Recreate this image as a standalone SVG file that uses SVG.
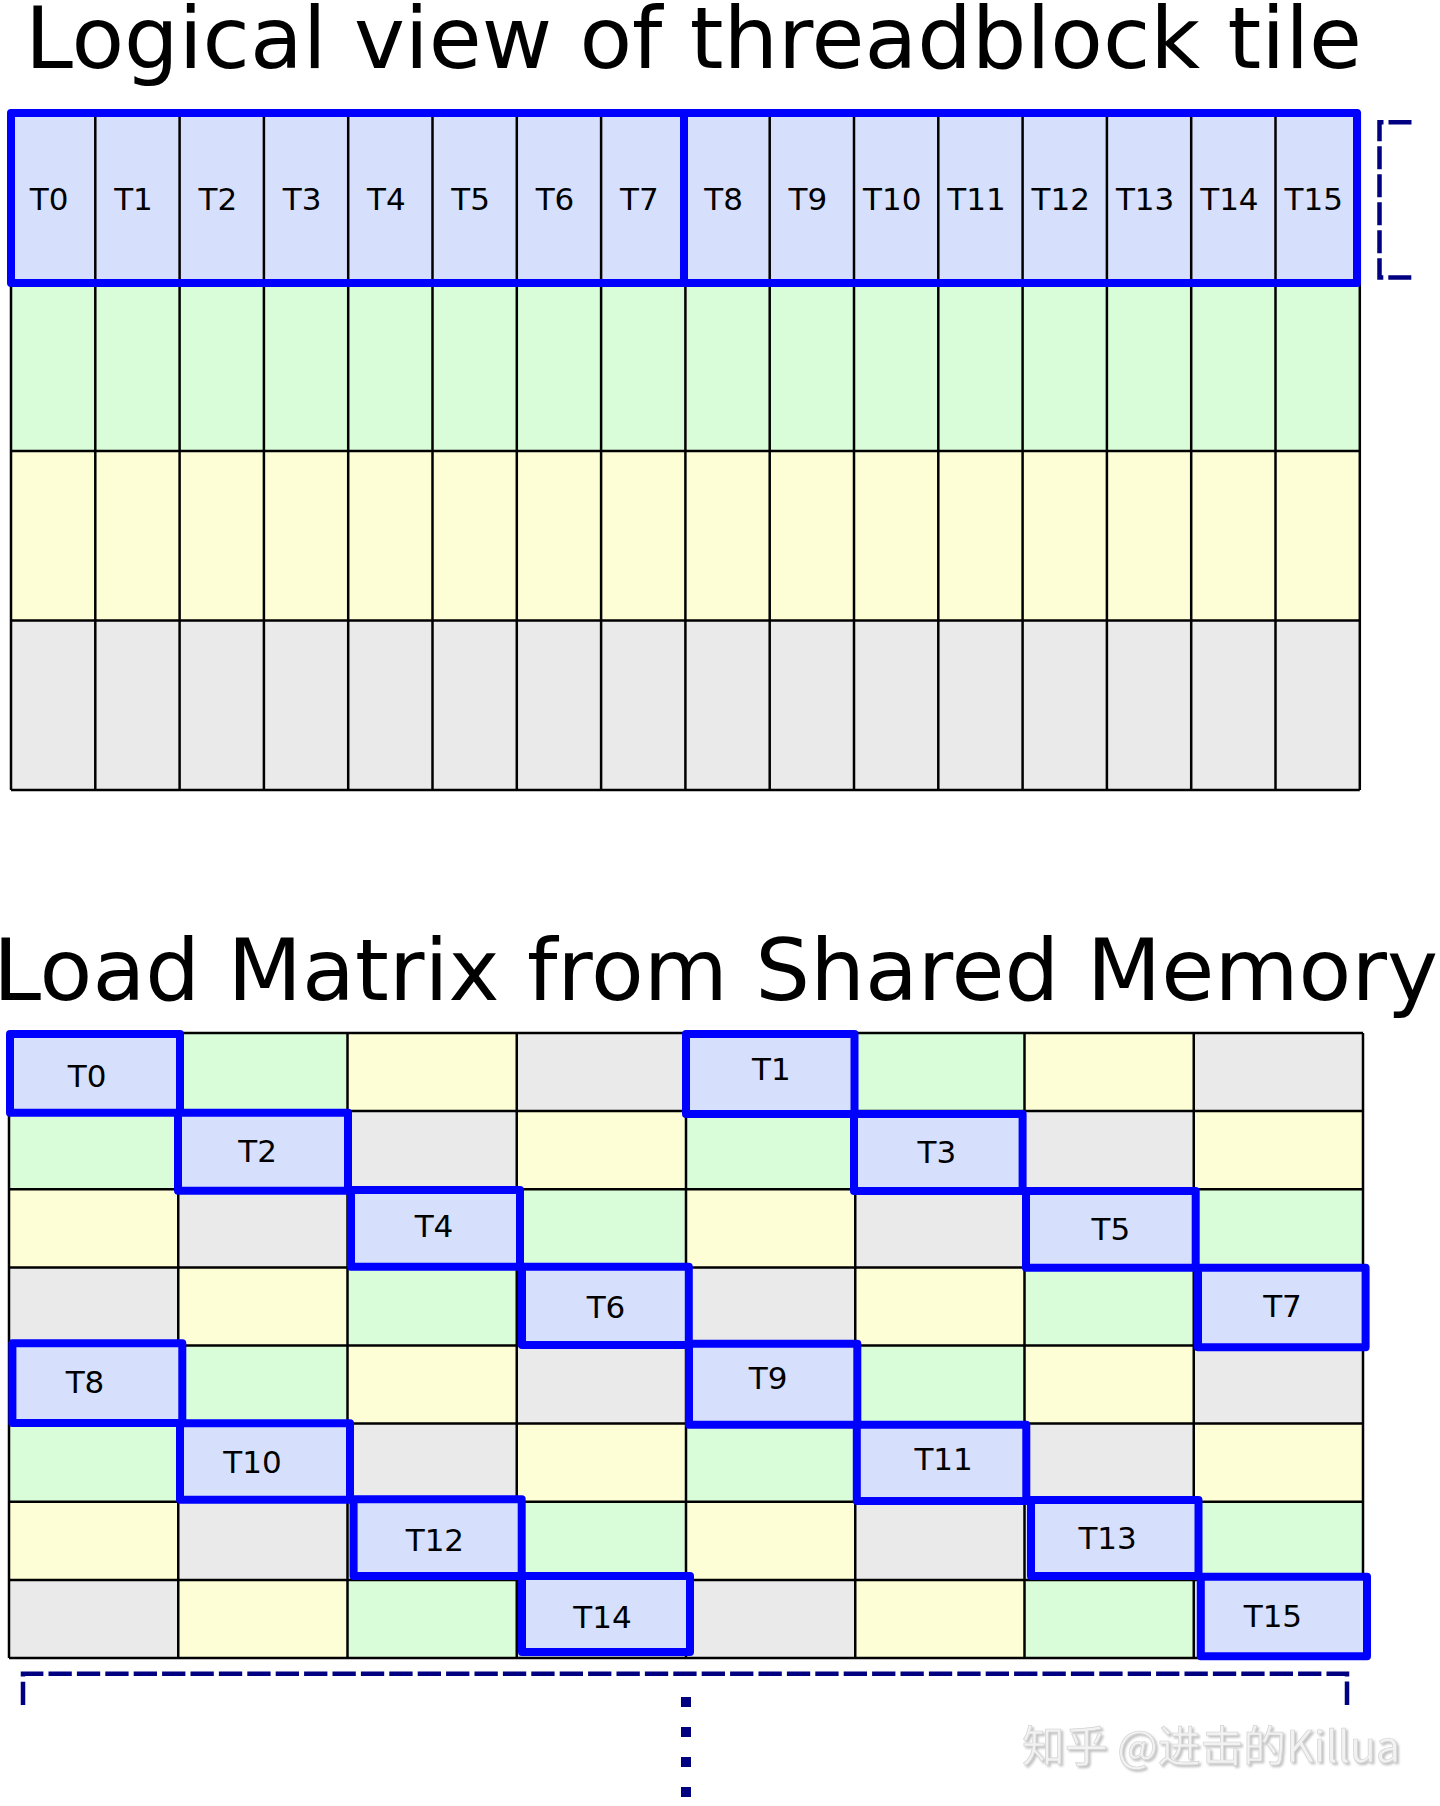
<svg xmlns="http://www.w3.org/2000/svg" width="1440" height="1806" viewBox="0 0 1440 1806">
<style>
.title{font-family:"DejaVu Sans",Verdana,sans-serif;font-size:85px;fill:#000}
.lbl{font-family:"DejaVu Sans",Verdana,sans-serif;font-size:31px;fill:#000;text-anchor:middle}
.b{fill:#d6e0fc}
.g{fill:#d8fdd8}
.y{fill:#fdfdd6}
.k{fill:#eaeaea}
.grid{fill:none;stroke:#000;stroke-width:2.5}
.box{fill:#d6e0fc;stroke:#0000ff;stroke-width:8;stroke-linejoin:round}
.dash{fill:none;stroke:#000080;stroke-width:4.5}
.wm{font-family:"Noto Sans CJK SC","Noto Sans",sans-serif;font-size:43px;fill:#f2f2f2;stroke:#d4d4d4;stroke-width:0.7}
</style>
<defs>
<filter id="sh" x="-5%" y="-20%" width="110%" height="140%">
<feDropShadow dx="2" dy="2" stdDeviation="0.8" flood-color="#a8a8a8" flood-opacity="0.7"/>
</filter>
</defs>
<rect x="0" y="0" width="1440" height="1806" fill="#fff"/>

<text class="title" x="25" y="68" textLength="1337" lengthAdjust="spacingAndGlyphs">Logical view of threadblock tile</text>

<g id="top-tile">
<rect class="b" x="11" y="112" width="1349" height="170.5"/>
<rect class="g" x="11" y="282.5" width="1349" height="168.5"/>
<rect class="y" x="11" y="451" width="1349" height="169.5"/>
<rect class="k" x="11" y="620.5" width="1349" height="169.5"/>
<path class="grid" d="M11,112V790M95.3,112V790M179.6,112V790M263.9,112V790M348.2,112V790M432.5,112V790M516.8,112V790M601.1,112V790M685.4,112V790M769.7,112V790M854,112V790M938.3,112V790M1022.6,112V790M1106.9,112V790M1191.2,112V790M1275.5,112V790M1359.8,112V790M11,112H1359.8M11,282.5H1359.8M11,451H1359.8M11,620.5H1359.8M11,790H1359.8"/>
<rect x="11" y="113" width="673" height="170" fill="none" stroke="#0000ff" stroke-width="8" stroke-linejoin="round"/>
<rect x="684" y="113" width="673" height="170" fill="none" stroke="#0000ff" stroke-width="8" stroke-linejoin="round"/>
</g>
<g id="top-threads">
<g id="top-T0"><text class="lbl" x="49.2" y="210">T0</text></g>
<g id="top-T1"><text class="lbl" x="133.5" y="210">T1</text></g>
<g id="top-T2"><text class="lbl" x="217.8" y="210">T2</text></g>
<g id="top-T3"><text class="lbl" x="302.1" y="210">T3</text></g>
<g id="top-T4"><text class="lbl" x="386.4" y="210">T4</text></g>
<g id="top-T5"><text class="lbl" x="470.7" y="210">T5</text></g>
<g id="top-T6"><text class="lbl" x="555" y="210">T6</text></g>
<g id="top-T7"><text class="lbl" x="639.3" y="210">T7</text></g>
<g id="top-T8"><text class="lbl" x="723.6" y="210">T8</text></g>
<g id="top-T9"><text class="lbl" x="807.9" y="210">T9</text></g>
<g id="top-T10"><text class="lbl" x="892.2" y="210">T10</text></g>
<g id="top-T11"><text class="lbl" x="976.5" y="210">T11</text></g>
<g id="top-T12"><text class="lbl" x="1060.8" y="210">T12</text></g>
<g id="top-T13"><text class="lbl" x="1145.1" y="210">T13</text></g>
<g id="top-T14"><text class="lbl" x="1229.4" y="210">T14</text></g>
<g id="top-T15"><text class="lbl" x="1313.7" y="210">T15</text></g>
</g>

<text class="title" x="-7" y="1000" textLength="1445" lengthAdjust="spacingAndGlyphs">Load Matrix from Shared Memory</text>

<g id="shared-memory">
<g id="cells">
<rect class="b" x="9" y="1033" width="169.25" height="78.1"/><rect class="g" x="178.25" y="1033" width="169.25" height="78.1"/><rect class="y" x="347.5" y="1033" width="169.25" height="78.1"/><rect class="k" x="516.75" y="1033" width="169.25" height="78.1"/>
<rect class="b" x="686" y="1033" width="169.25" height="78.1"/><rect class="g" x="855.25" y="1033" width="169.25" height="78.1"/><rect class="y" x="1024.5" y="1033" width="169.25" height="78.1"/><rect class="k" x="1193.75" y="1033" width="169.25" height="78.1"/>
<rect class="g" x="9" y="1111.1" width="169.25" height="78.15"/><rect class="b" x="178.25" y="1111.1" width="169.25" height="78.15"/><rect class="k" x="347.5" y="1111.1" width="169.25" height="78.15"/><rect class="y" x="516.75" y="1111.1" width="169.25" height="78.15"/>
<rect class="g" x="686" y="1111.1" width="169.25" height="78.15"/><rect class="b" x="855.25" y="1111.1" width="169.25" height="78.15"/><rect class="k" x="1024.5" y="1111.1" width="169.25" height="78.15"/><rect class="y" x="1193.75" y="1111.1" width="169.25" height="78.15"/>
<rect class="y" x="9" y="1189.25" width="169.25" height="78.15"/><rect class="k" x="178.25" y="1189.25" width="169.25" height="78.15"/><rect class="b" x="347.5" y="1189.25" width="169.25" height="78.15"/><rect class="g" x="516.75" y="1189.25" width="169.25" height="78.15"/>
<rect class="y" x="686" y="1189.25" width="169.25" height="78.15"/><rect class="k" x="855.25" y="1189.25" width="169.25" height="78.15"/><rect class="b" x="1024.5" y="1189.25" width="169.25" height="78.15"/><rect class="g" x="1193.75" y="1189.25" width="169.25" height="78.15"/>
<rect class="k" x="9" y="1267.4" width="169.25" height="78.1"/><rect class="y" x="178.25" y="1267.4" width="169.25" height="78.1"/><rect class="g" x="347.5" y="1267.4" width="169.25" height="78.1"/><rect class="b" x="516.75" y="1267.4" width="169.25" height="78.1"/>
<rect class="k" x="686" y="1267.4" width="169.25" height="78.1"/><rect class="y" x="855.25" y="1267.4" width="169.25" height="78.1"/><rect class="g" x="1024.5" y="1267.4" width="169.25" height="78.1"/><rect class="b" x="1193.75" y="1267.4" width="169.25" height="78.1"/>
<rect class="b" x="9" y="1345.5" width="169.25" height="78.1"/><rect class="g" x="178.25" y="1345.5" width="169.25" height="78.1"/><rect class="y" x="347.5" y="1345.5" width="169.25" height="78.1"/><rect class="k" x="516.75" y="1345.5" width="169.25" height="78.1"/>
<rect class="b" x="686" y="1345.5" width="169.25" height="78.1"/><rect class="g" x="855.25" y="1345.5" width="169.25" height="78.1"/><rect class="y" x="1024.5" y="1345.5" width="169.25" height="78.1"/><rect class="k" x="1193.75" y="1345.5" width="169.25" height="78.1"/>
<rect class="g" x="9" y="1423.6" width="169.25" height="78.15"/><rect class="b" x="178.25" y="1423.6" width="169.25" height="78.15"/><rect class="k" x="347.5" y="1423.6" width="169.25" height="78.15"/><rect class="y" x="516.75" y="1423.6" width="169.25" height="78.15"/>
<rect class="g" x="686" y="1423.6" width="169.25" height="78.15"/><rect class="b" x="855.25" y="1423.6" width="169.25" height="78.15"/><rect class="k" x="1024.5" y="1423.6" width="169.25" height="78.15"/><rect class="y" x="1193.75" y="1423.6" width="169.25" height="78.15"/>
<rect class="y" x="9" y="1501.75" width="169.25" height="78.15"/><rect class="k" x="178.25" y="1501.75" width="169.25" height="78.15"/><rect class="b" x="347.5" y="1501.75" width="169.25" height="78.15"/><rect class="g" x="516.75" y="1501.75" width="169.25" height="78.15"/>
<rect class="y" x="686" y="1501.75" width="169.25" height="78.15"/><rect class="k" x="855.25" y="1501.75" width="169.25" height="78.15"/><rect class="b" x="1024.5" y="1501.75" width="169.25" height="78.15"/><rect class="g" x="1193.75" y="1501.75" width="169.25" height="78.15"/>
<rect class="k" x="9" y="1579.9" width="169.25" height="78.1"/><rect class="y" x="178.25" y="1579.9" width="169.25" height="78.1"/><rect class="g" x="347.5" y="1579.9" width="169.25" height="78.1"/><rect class="b" x="516.75" y="1579.9" width="169.25" height="78.1"/>
<rect class="k" x="686" y="1579.9" width="169.25" height="78.1"/><rect class="y" x="855.25" y="1579.9" width="169.25" height="78.1"/><rect class="g" x="1024.5" y="1579.9" width="169.25" height="78.1"/><rect class="b" x="1193.75" y="1579.9" width="169.25" height="78.1"/>
</g>
<path class="grid" d="M9,1033V1658M178.25,1033V1658M347.5,1033V1658M516.75,1033V1658M686,1033V1658M855.25,1033V1658M1024.5,1033V1658M1193.75,1033V1658M1363,1033V1658M9,1033H1363M9,1111.1H1363M9,1189.25H1363M9,1267.4H1363M9,1345.5H1363M9,1423.6H1363M9,1501.75H1363M9,1579.9H1363M9,1658H1363"/>
</g>

<g id="threads">
<g id="T0"><rect class="box" x="10" y="1034" width="170" height="78.7"/><text class="lbl" x="87.2" y="1086.7">T0</text></g>
<g id="T1"><rect class="box" x="686" y="1034" width="168.5" height="80"/><text class="lbl" x="771.4" y="1080">T1</text></g>
<g id="T2"><rect class="box" x="178" y="1112.7" width="170" height="78"/><text class="lbl" x="257.6" y="1161.7">T2</text></g>
<g id="T3"><rect class="box" x="854" y="1114" width="168.6" height="77"/><text class="lbl" x="936.8" y="1162.7">T3</text></g>
<g id="T4"><rect class="box" x="351" y="1190" width="169" height="76.7"/><text class="lbl" x="434" y="1236.7">T4</text></g>
<g id="T5"><rect class="box" x="1026" y="1191" width="169.7" height="76.7"/><text class="lbl" x="1110.8" y="1240">T5</text></g>
<g id="T6"><rect class="box" x="522" y="1266.7" width="166.8" height="78.3"/><text class="lbl" x="606" y="1318">T6</text></g>
<g id="T7"><rect class="box" x="1198" y="1267.7" width="167.6" height="79.6"/><text class="lbl" x="1282.5" y="1317">T7</text></g>
<g id="T8"><rect class="box" x="12.4" y="1343.3" width="169.9" height="79.7"/><text class="lbl" x="85" y="1393.3">T8</text></g>
<g id="T9"><rect class="box" x="689" y="1343.7" width="168.3" height="81"/><text class="lbl" x="768.2" y="1389.3">T9</text></g>
<g id="T10"><rect class="box" x="180" y="1423.3" width="170" height="76.4"/><text class="lbl" x="252.5" y="1473.3">T10</text></g>
<g id="T11"><rect class="box" x="856.8" y="1424.7" width="169.5" height="76.3"/><text class="lbl" x="943.6" y="1470">T11</text></g>
<g id="T12"><rect class="box" x="353.6" y="1499.3" width="168.1" height="76.7"/><text class="lbl" x="434.9" y="1550.7">T12</text></g>
<g id="T13"><rect class="box" x="1031" y="1500" width="167.5" height="76"/><text class="lbl" x="1107.6" y="1549.3">T13</text></g>
<g id="T14"><rect class="box" x="522" y="1576" width="168" height="76"/><text class="lbl" x="602.5" y="1628.3">T14</text></g>
<g id="T15"><rect class="box" x="1200.8" y="1576.7" width="166.2" height="79.6"/><text class="lbl" x="1272.9" y="1626.7">T15</text></g>
</g>

<g id="connectors">
<path class="dash" d="M1411.5,122.3H1379.5V277.5H1413" stroke-dasharray="23 5"/>
<path class="dash" d="M23,1705V1673.7H1347V1706" stroke-dasharray="23.3 5.1"/>
<path d="M686,1697V1806" fill="none" stroke="#000080" stroke-width="10" stroke-dasharray="10 20"/>
</g>

<g id="watermark" filter="url(#sh)">
<text class="wm" x="1022" y="1762" textLength="378" lengthAdjust="spacingAndGlyphs">知乎 @进击的Killua</text>
</g>
</svg>
